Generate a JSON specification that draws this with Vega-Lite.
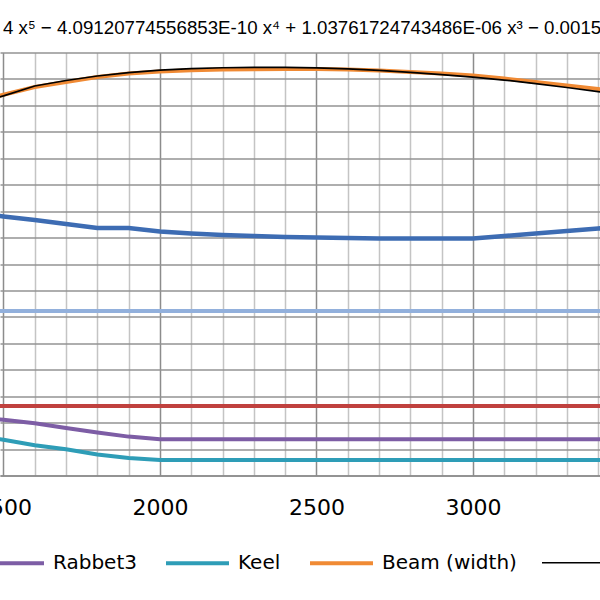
{
  "$schema": "https://vega.github.io/schema/vega-lite/v6.json",
  "width": 600,
  "height": 423,
  "autosize": {"type": "none"},
  "padding": {"left": 0, "top": 52.5, "right": 0, "bottom": 124.5},
  "background": "white",
  "title": {
    "text": "4 x⁵ − 4.09120774556853E-10 x⁴ + 1.03761724743486E-06 x³ − 0.0015",
    "anchor": "start",
    "frame": "group",
    "dx": 3,
    "font": "Liberation Sans",
    "fontSize": 18.7,
    "fontWeight": "normal",
    "color": "#000000",
    "offset": 0,
    "baseline": "alphabetic"
  },
  "config": {"view": {"stroke": null}},
  "data": {
    "values": [
      {"s": "Sheer", "x": 1400, "y": 9.947},
      {"s": "Sheer", "x": 1500, "y": 9.80},
      {"s": "Sheer", "x": 1600, "y": 9.663},
      {"s": "Sheer", "x": 1700, "y": 9.512},
      {"s": "Sheer", "x": 1800, "y": 9.361},
      {"s": "Sheer", "x": 1900, "y": 9.361},
      {"s": "Sheer", "x": 2000, "y": 9.228},
      {"s": "Sheer", "x": 2100, "y": 9.153},
      {"s": "Sheer", "x": 2200, "y": 9.096},
      {"s": "Sheer", "x": 2300, "y": 9.058},
      {"s": "Sheer", "x": 2400, "y": 9.020},
      {"s": "Sheer", "x": 2500, "y": 9.002},
      {"s": "Sheer", "x": 2600, "y": 8.983},
      {"s": "Sheer", "x": 2700, "y": 8.964},
      {"s": "Sheer", "x": 2800, "y": 8.964},
      {"s": "Sheer", "x": 2900, "y": 8.964},
      {"s": "Sheer", "x": 3000, "y": 8.964},
      {"s": "Sheer", "x": 3100, "y": 9.058},
      {"s": "Sheer", "x": 3200, "y": 9.153},
      {"s": "Sheer", "x": 3300, "y": 9.247},
      {"s": "Sheer", "x": 3400, "y": 9.342},
      {"s": "Sheer", "x": 3500, "y": 9.437},
      {"s": "Rabbet1", "x": 1400, "y": 6.222},
      {"s": "Rabbet1", "x": 3500, "y": 6.222},
      {"s": "Rabbet2", "x": 1400, "y": 2.629},
      {"s": "Rabbet2", "x": 3500, "y": 2.629},
      {"s": "Rabbet3", "x": 1400, "y": 2.231},
      {"s": "Rabbet3", "x": 1500, "y": 2.107},
      {"s": "Rabbet3", "x": 1600, "y": 1.974},
      {"s": "Rabbet3", "x": 1700, "y": 1.797},
      {"s": "Rabbet3", "x": 1800, "y": 1.623},
      {"s": "Rabbet3", "x": 1900, "y": 1.471},
      {"s": "Rabbet3", "x": 2000, "y": 1.369},
      {"s": "Rabbet3", "x": 3500, "y": 1.369},
      {"s": "Keel", "x": 1400, "y": 1.551},
      {"s": "Keel", "x": 1500, "y": 1.350},
      {"s": "Keel", "x": 1600, "y": 1.142},
      {"s": "Keel", "x": 1700, "y": 0.991},
      {"s": "Keel", "x": 1800, "y": 0.794},
      {"s": "Keel", "x": 1900, "y": 0.662},
      {"s": "Keel", "x": 2000, "y": 0.586},
      {"s": "Keel", "x": 3500, "y": 0.586},
      {"s": "Beam (width)", "x": 1400, "y": 14.126},
      {"s": "Beam (width)", "x": 1500, "y": 14.40},
      {"s": "Beam (width)", "x": 1600, "y": 14.694},
      {"s": "Beam (width)", "x": 1700, "y": 14.883},
      {"s": "Beam (width)", "x": 1800, "y": 15.072},
      {"s": "Beam (width)", "x": 1900, "y": 15.204},
      {"s": "Beam (width)", "x": 2000, "y": 15.280},
      {"s": "Beam (width)", "x": 2100, "y": 15.325},
      {"s": "Beam (width)", "x": 2200, "y": 15.356},
      {"s": "Beam (width)", "x": 2300, "y": 15.367},
      {"s": "Beam (width)", "x": 2400, "y": 15.375},
      {"s": "Beam (width)", "x": 2500, "y": 15.375},
      {"s": "Beam (width)", "x": 2600, "y": 15.356},
      {"s": "Beam (width)", "x": 2700, "y": 15.318},
      {"s": "Beam (width)", "x": 2800, "y": 15.261},
      {"s": "Beam (width)", "x": 2900, "y": 15.204},
      {"s": "Beam (width)", "x": 3000, "y": 15.129},
      {"s": "Beam (width)", "x": 3100, "y": 15.015},
      {"s": "Beam (width)", "x": 3200, "y": 14.883},
      {"s": "Beam (width)", "x": 3300, "y": 14.750},
      {"s": "Beam (width)", "x": 3400, "y": 14.618},
      {"s": "Beam (width)", "x": 3500, "y": 14.467},
      {"s": "Poly. (Beam (width))", "x": 1400, "y": 14.05},
      {"s": "Poly. (Beam (width))", "x": 1500, "y": 14.36},
      {"s": "Poly. (Beam (width))", "x": 1600, "y": 14.732},
      {"s": "Poly. (Beam (width))", "x": 1700, "y": 14.940},
      {"s": "Poly. (Beam (width))", "x": 1800, "y": 15.110},
      {"s": "Poly. (Beam (width))", "x": 1900, "y": 15.242},
      {"s": "Poly. (Beam (width))", "x": 2000, "y": 15.337},
      {"s": "Poly. (Beam (width))", "x": 2100, "y": 15.393},
      {"s": "Poly. (Beam (width))", "x": 2200, "y": 15.424},
      {"s": "Poly. (Beam (width))", "x": 2300, "y": 15.439},
      {"s": "Poly. (Beam (width))", "x": 2400, "y": 15.439},
      {"s": "Poly. (Beam (width))", "x": 2500, "y": 15.420},
      {"s": "Poly. (Beam (width))", "x": 2600, "y": 15.382},
      {"s": "Poly. (Beam (width))", "x": 2700, "y": 15.325},
      {"s": "Poly. (Beam (width))", "x": 2800, "y": 15.250},
      {"s": "Poly. (Beam (width))", "x": 2900, "y": 15.166},
      {"s": "Poly. (Beam (width))", "x": 3000, "y": 15.072},
      {"s": "Poly. (Beam (width))", "x": 3100, "y": 14.958},
      {"s": "Poly. (Beam (width))", "x": 3200, "y": 14.826},
      {"s": "Poly. (Beam (width))", "x": 3300, "y": 14.675},
      {"s": "Poly. (Beam (width))", "x": 3400, "y": 14.523},
      {"s": "Poly. (Beam (width))", "x": 3500, "y": 14.372}
    ]
  },
  "mark": {"type": "line", "clip": true},
  "encoding": {
    "x": {
      "field": "x",
      "type": "quantitative",
      "scale": {"domain": [1489, 3406], "nice": false, "zero": false},
      "axis": {
        "title": null,
        "values": [1500, 1600, 1700, 1800, 1900, 2000, 2100, 2200, 2300, 2400, 2500, 2600, 2700, 2800, 2900, 3000, 3100, 3200, 3300, 3400],
        "format": "d",
        "labelExpr": "datum.value % 500 === 0 ? datum.label : ''",
        "labelFont": "DejaVu Sans",
        "labelFontSize": 22,
        "labelColor": "#000000",
        "labelPadding": 22,
        "labelFlush": false,
        "labelOverlap": false,
        "ticks": false,
        "domainColor": "#8a8a8a",
        "domainWidth": 1.5,
        "gridWidth": 1.5,
        "gridColor": {"condition": {"test": "datum.value % 500 === 0", "value": "#8c8c8c"}, "value": "#c4c4c4"}
      }
    },
    "y": {
      "field": "y",
      "type": "quantitative",
      "scale": {"domain": [0, 16], "nice": false, "zero": false},
      "axis": {
        "title": null,
        "values": [0, 1, 2, 3, 4, 5, 6, 7, 8, 9, 10, 11, 12, 13, 14, 15, 16],
        "labels": false,
        "ticks": false,
        "domain": false,
        "gridColor": "#939393",
        "gridWidth": 1.5
      }
    },
    "color": {
      "field": "s",
      "type": "nominal",
      "scale": {
        "domain": ["Sheer", "Rabbet1", "Rabbet2", "Rabbet3", "Keel", "Beam (width)", "Poly. (Beam (width))"],
        "range": ["#3d6cb3", "#92b0dc", "#c0413e", "#7d5da5", "#2e9db7", "#f08a34", "#000000"]
      },
      "legend": {
        "orient": "none",
        "legendX": -552,
        "legendY": 477,
        "direction": "horizontal",
        "title": null,
        "padding": 0,
        "symbolType": "stroke",
        "symbolSize": 3969,
        "labelFont": "DejaVu Sans",
        "labelFontSize": 20,
        "labelColor": "#000000",
        "labelOffset": 7,
        "columnPadding": 21
      }
    },
    "strokeWidth": {
      "field": "s",
      "type": "nominal",
      "scale": {
        "type": "ordinal",
        "domain": ["Sheer", "Rabbet1", "Rabbet2", "Rabbet3", "Keel", "Beam (width)", "Poly. (Beam (width))"],
        "range": [4.5, 4, 4, 4, 4, 4, 1.7]
      },
      "legend": {
        "orient": "none",
        "legendX": -552,
        "legendY": 477,
        "direction": "horizontal",
        "title": null,
        "padding": 0,
        "symbolType": "stroke",
        "symbolSize": 3969,
        "labelFont": "DejaVu Sans",
        "labelFontSize": 20,
        "labelColor": "#000000",
        "labelOffset": 7,
        "columnPadding": 21
      }
    }
  }
}
